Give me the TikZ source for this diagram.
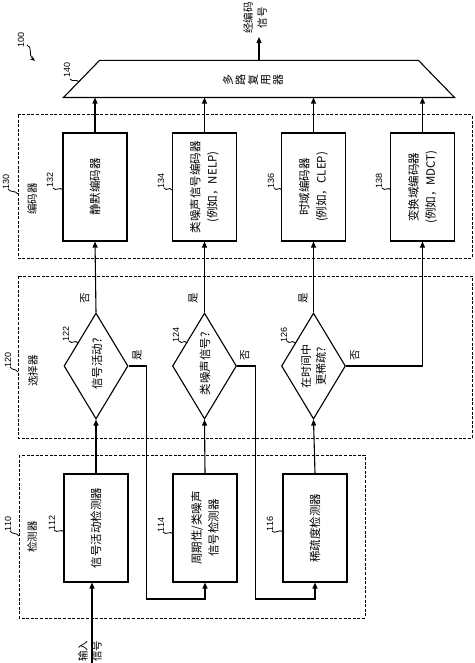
\documentclass[tikz,border=0pt]{standalone}
\usepackage{fontspec}
\setmainfont{Noto Sans CJK SC}
\newfontfamily\numfont{Liberation Sans}
\usetikzlibrary{arrows.meta,shapes.geometric,calc}
\newcommand{\myleader}[2]{\draw[lead] #1 .. controls +(3,4) and +(-3,-4) .. #2;}
\begin{document}
\begin{tikzpicture}[x=1pt,y=-1pt,
  line width=1.1pt,
  box/.style={draw, minimum width=64pt, minimum height=108pt, inner sep=0pt},
  dia/.style={draw, diamond, minimum width=64pt, minimum height=106pt, inner sep=0pt},
  grp/.style={draw, dash pattern=on 3pt off 1.6pt, line width=1pt},
  arr/.style={-{Triangle[length=6pt,width=5pt]}},
  txt/.style={font=\fontsize{11.5}{17}\selectfont, inner sep=0pt, align=center, rotate=90},
  small/.style={font=\fontsize{10.5}{14}\selectfont},
  num/.style={font=\numfont\fontsize{9}{9}\selectfont, inner sep=0pt, rotate=90},
  lead/.style={line width=0.8pt},
]
\useasboundingbox (0,0) rectangle (474,663);

% group frames
\draw[grp] (18,115) rectangle (472,258);
\draw[grp] (18,276) rectangle (472,438);
\draw[grp] (19,455) rectangle (365,618);
\node[txt, small] (g130) at (32,199) {编码器};
\node[txt, small] (g120) at (33,371) {选择器};
\node[txt, small] (g110) at (32,537) {检测器};

% multiplexer
\node[minimum width=390pt, minimum height=36pt, inner sep=0pt] (mux) at (259,79) {};
\draw (mux.south west) -- ($(mux.north west)+(36,0)$) -- ($(mux.north east)+(-36,0)$) -- (mux.south east) -- cycle;
\node[txt, font=\fontsize{11}{12.5}\selectfont] (muxt) at (253,80) {多\\路\\复\\用\\器};
\coordinate (out) at (259,37);
\draw[arr] (mux.north) -- (out);
\node[txt, font=\fontsize{10.5}{14}\selectfont] (outt) at (255,18) {经编码\\信号};

% encoders
\node[box] (b132) at (95,187) {};
\node[box] (b134) at (204.5,187) {};
\node[box] (b136) at (313.5,187) {};
\node[box] (b138) at (422.5,187) {};
\node[txt] (t132) at (b132.center) {静默编码器};
\node[txt] (t134) at (b134.center) {类噪声信号编码器\\(例如，NELP)};
\node[txt] (t136) at (b136.center) {时域编码器\\(例如，CLEP)};
\node[txt] (t138) at (b138.center) {变换域编码器\\(例如，MDCT)};
\foreach \b in {b132,b134,b136,b138}{\draw[arr] (\b.north) -- (\b.north |- mux.south);}

% selectors
\node[dia] (d122) at (96,366) {};
\node[dia] (d124) at (204.5,366) {};
\node[dia] (d126) at (313.5,366) {};
\node[txt] (t122) at (97,364) {信号活动?};
\node[txt] (t124) at (205,364) {类噪声信号?};
\node[txt, font=\fontsize{11}{15}\selectfont] (t126) at (d126.center) {在时间中\\更稀疏?};

% detectors
\node[box] (b112) at (96,528) {};
\node[box] (b114) at (205,528) {};
\node[box] (b116) at (315,528) {};
\node[txt] (t112) at (b112.center) {信号活动检测器};
\node[txt] (t114) at (b114.center) {周期性/类噪声\\信号检测器};
\node[txt] (t116) at (b116.center) {稀疏度检测器};

% connections
\draw[arr] (d122.north) -- (b132.south);
\draw[arr] (d124.north) -- (b134.south);
\draw[arr] (d126.north) -- (b136.south);
\draw[arr] (d126.east) -| (b138.south);
\draw[arr] (d122.east) -- ++(18,0) -- ++(0,233) -| (b114.south);
\draw[arr] (d124.east) -- ++(18.5,0) -- ++(0,233) -| (b116.south);
\draw[arr] (b112.north) -- (d122.south);
\draw[arr] (b114.north) -- (d124.south);
\draw[arr] (b116.north) -- (d126.south);
\coordinate (in) at (92,663);
\draw[arr] (in) -- (in |- b112.south);
\node[txt, font=\fontsize{10.5}{14}\selectfont] (int) at (90,651) {输入\\信号};

% yes/no labels
\node[txt, small] (n1) at (85,298) {否};
\node[txt, small] (y1) at (137,355) {是};
\node[txt, small] (y2) at (193,298) {是};
\node[txt, small] (n2) at (245,355) {否};
\node[txt, small] (y3) at (303,298) {是};
\node[txt, small] (n3) at (355,355) {否};

% reference numbers
\node[num] (r100) at (21,40) {100};
\draw[lead, -{Stealth[length=5pt,width=4pt]}] (27,45) .. controls (33,47) and (28,55) .. (35,61);
\node[num] (r140) at (67,70) {140};
\myleader{(70,79)}{(79,82)}
\node[num] (r130) at (6,182) {130};
\myleader{(8,189)}{(18,194)}
\node[num] (r132) at (50,180) {132};
\myleader{(53,188)}{(63,190)}
\node[num] (r134) at (161,181) {134};
\myleader{(164,188)}{(172,190)}
\node[num] (r136) at (271,181) {136};
\myleader{(274,188)}{(282,190)}
\node[num] (r138) at (379,181) {138};
\myleader{(382,188)}{(391,190)}
\node[num] (r120) at (8,360) {120};
\myleader{(10,367)}{(18,372)}
\node[num] (r122) at (66,334) {122};
\myleader{(69,341)}{(78,343)}
\node[num] (r124) at (176,335) {124};
\myleader{(179,341)}{(187,343)}
\node[num] (r126) at (284,335) {126};
\myleader{(287,341)}{(295,343)}
\node[num] (r110) at (8,524) {110};
\myleader{(10,531)}{(19,536)}
\node[num] (r112) at (52,523) {112};
\myleader{(54,530)}{(64,532)}
\node[num] (r114) at (161,525) {114};
\myleader{(163,532)}{(173,534)}
\node[num] (r116) at (270,524) {116};
\myleader{(272,531)}{(283,532)}
\end{tikzpicture}
\end{document}
